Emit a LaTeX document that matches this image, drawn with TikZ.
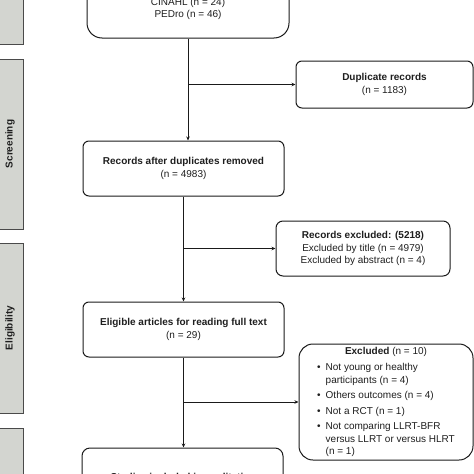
\documentclass[tikz,border=0pt]{standalone}
\usepackage{fontspec}
\setmainfont{Liberation Sans}
\usepackage{tikz}
\usetikzlibrary{arrows.meta,positioning,fit}
\definecolor{prtext}{HTML}{1E1E1E}
\definecolor{prline}{HTML}{1A1A1A}
\definecolor{prgrey}{HTML}{D3D5D0}
\definecolor{prbar}{HTML}{4A4A4A}

\begin{document}
\begin{tikzpicture}[x=1pt,y=-1pt,font=\fontsize{10}{12.5}\selectfont,text=prtext,
  box/.style={draw=prline,line width=1pt,rounded corners=6pt,align=center,inner sep=0pt},
  phase/.style={draw=prbar,fill=prgrey,line width=0.8pt,rotate=90,minimum height=26pt,inner sep=0pt,font=\fontsize{10}{12}\selectfont\bfseries},
  arr/.style={-{Stealth[length=4pt,width=3.5pt]},line width=1pt,draw=prline}]
  \path[use as bounding box,clip] (0,0) rectangle (474,474);
  % phase bars on the left
  \node[phase,minimum width=64pt] (idn) at (10,12) {};
  \node[phase,minimum width=170pt] (scr) at (10,144) {Screening};
  \node[phase,minimum width=170pt] (elg) at (10,328) {Eligibility};
  \node[phase,minimum width=72pt] (inc) at (10,464) {};
  % boxes
  \node (dbtxt) at (188,9) [align=center] {CINAHL (n = 24)\\PEDro (n = 46)};
  \node[box,rounded corners=15pt,fit={(87,-60) (289,38)}] (db) {};
  \node[box,minimum width=177pt,minimum height=47pt] (dup) at (384.5,84.5)
    {\textbf{Duplicate records}\\(n = 1183)};
  \node[box,minimum width=201pt,minimum height=55pt] (recs) at (183.5,168.5)
    {\textbf{Records after duplicates removed}\\(n = 4983)};
  \node[box,rounded corners=7pt,minimum width=174pt,minimum height=55pt] (recex) at (363,248.5)
    {\textbf{Records excluded: (5218)}\\Excluded by title (n = 4979)\\Excluded by abstract (n = 4)};
  \node[box,minimum width=201pt,minimum height=55pt] (elig) at (183.5,329.5)
    {\textbf{Eligible articles for reading full text}\\(n = 29)};
  \node[box,rounded corners=14pt,minimum width=174pt,minimum height=116pt] (fullex) at (386,402)
    {\begin{tabular}{@{}l@{\hspace{5pt}}l@{}}
      \multicolumn{2}{c}{\textbf{Excluded} (n = 10)}\\[3.5pt]
      \textbullet & Not young or healthy\\
      & participants (n = 4)\\[3pt]
      \textbullet & Others outcomes (n = 4)\\[3pt]
      \textbullet & Not a RCT (n = 1)\\[3pt]
      \textbullet & Not comparing LLRT-BFR\\
      & versus LLRT or versus HLRT\\
      & (n = 1)
    \end{tabular}};
  \node[box,rounded corners=8pt,fit={(82,448) (283,520)}] (incl) {};
  \node[anchor=base] (incltxt) at (182.5,480.5) {\textbf{Studies included in qualitative}};
  % connectors
  \draw[arr] (db.south) -- (db.south |- recs.north);
  \draw[arr] (db.south |- dup.west) -- (dup.west);
  \draw[arr] (recs.south) -- (elig.north);
  \draw[arr] (recs.south |- recex.west) -- (recex.west);
  \draw[arr] (elig.south) -- (elig.south |- incl.north);
  \draw[arr] (elig.south |- fullex.west) -- (fullex.west);
\end{tikzpicture}
\end{document}
